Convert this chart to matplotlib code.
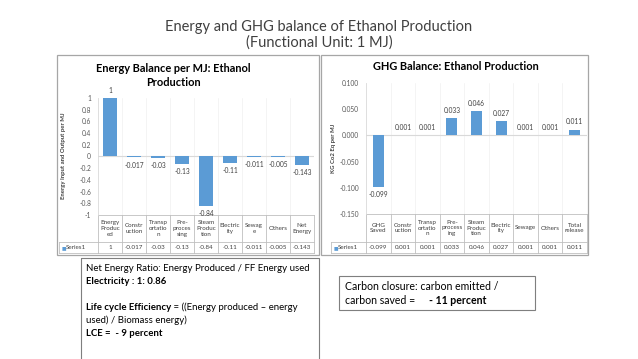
import matplotlib
matplotlib.use('Agg')
import matplotlib.pyplot as plt
from matplotlib.patches import Rectangle

plt.rcParams['font.family'] = ['Lato', 'DejaVu Sans']

# data
energy_cats = ['Energy\nProduc\ned', 'Constr\nuction', 'Transp\nortatio\nn', 'Pre-\nproces\nsing',
               'Steam\nProduc\ntion', 'Electric\nity', 'Sewag\ne', 'Others', 'Net\nEnergy']
energy_vals = [1, -0.017, -0.03, -0.13, -0.84, -0.11, -0.011, -0.005, -0.143]
energy_labels = ['1', '-0.017', '-0.03', '-0.13', '-0.84', '-0.11', '-0.011', '-0.005', '-0.143']
energy_ticks = [1, 0.8, 0.6, 0.4, 0.2, 0, -0.2, -0.4, -0.6, -0.8, -1]
energy_ticklabels = ['1', '0.8', '0.6', '0.4', '0.2', '0', '-0.2', '-0.4', '-0.6', '-0.8', '-1']

ghg_cats = ['GHG\nSaved', 'Constr\nuction', 'Transp\nortatio\nn', 'Pre-\nprocess\ning',
            'Steam\nProduc\ntion', 'Electric\nity', 'Sewage', 'Others', 'Total\nrelease']
ghg_vals = [-0.099, 0.001, 0.001, 0.033, 0.046, 0.027, 0.001, 0.001, 0.011]
ghg_labels = ['-0.099', '0.001', '0.001', '0.033', '0.046', '0.027', '0.001', '0.001', '0.011']
ghg_ticks = [0.1, 0.05, 0, -0.05, -0.1, -0.15]
ghg_ticklabels = ['0.100', '0.050', '0.000', '-0.050', '-0.100', '-0.150']

W, H = 638, 359
BLUE = '#5B9BD5'
GRID = '#D9D9D9'
TXT = '#595959'

fig = plt.figure(figsize=(W / 100, H / 100), dpi=100)

# overlay in pixel coordinates for the slide furniture
ov = fig.add_axes([0, 0, 1, 1], zorder=0)
ov.set_xlim(0, W)
ov.set_ylim(H, 0)
ov.axis('off')


def px_axes(l, t, r, b, **kw):
    return fig.add_axes([l / W, 1 - b / H, (r - l) / W, (b - t) / H], **kw)


ov.text(W / 2, 27, 'Energy and GHG balance of Ethanol Production', ha='center', va='center',
        fontsize=10.5, color='#404040')
ov.text(W / 2, 43, '(Functional Unit: 1 MJ)', ha='center', va='center',
        fontsize=10.5, color='#404040')

# chart frames
ov.add_patch(Rectangle((57, 55), 262, 200, fill=False, ec='#A6A6A6', lw=0.9))
ov.add_patch(Rectangle((321, 55), 267, 200, fill=False, ec='#A6A6A6', lw=0.9))

ov.text(173, 68, 'Energy Balance per MJ: Ethanol', ha='center', va='center', fontsize=7.9,
        fontweight='bold', color='black')
ov.text(173, 82, 'Production', ha='center', va='center', fontsize=7.9, fontweight='bold', color='black')
ov.text(456, 67, 'GHG Balance: Ethanol Production', ha='center', va='center', fontsize=7.9,
        fontweight='bold', color='black')

ov.text(63, 156, 'Energy Input and Output per MJ', rotation=90, ha='center', va='center',
        fontsize=4.3, fontweight='bold', color='#404040')
ov.text(334, 148, 'KG Co2 Eq per MJ', rotation=90, ha='center', va='center',
        fontsize=4.3, fontweight='bold', color='#404040')


def draw_chart(ax, cats, vals, labels, ticks, ticklabels, ylim, width, row1_px, row2_px, leg_px):
    n = len(cats)
    x = list(range(n))
    ax.set_xlim(-0.5, n - 0.5)
    ax.set_ylim(*ylim)
    ax.patch.set_alpha(0)
    for s in ['top', 'right', 'bottom']:
        ax.spines[s].set_visible(False)
    ax.spines['left'].set_color(GRID)
    ax.spines['left'].set_linewidth(0.6)
    ax.set_xticks([])
    ax.set_yticks(ticks)
    ax.set_yticklabels(ticklabels)
    ax.tick_params(axis='y', length=0, labelsize=4.8, labelcolor=TXT, pad=5)
    ax.axhline(0, color=GRID, lw=0.8, zorder=1)
    for i in range(1, n):
        ax.axvline(i - 0.5, color='#F0F0F0', lw=0.5, zorder=0)
    ax.bar(x, vals, width=width, color=BLUE, zorder=2)
    for xi, v, lab in zip(x, vals, labels):
        ax.annotate(lab, (xi, v), xytext=(0, 3 if v >= 0 else -3), textcoords='offset points',
                    ha='center', va='bottom' if v >= 0 else 'top', fontsize=4.8, color='#404040')

    # data table under the plot
    h = ax.get_position().height * H
    r1 = -row1_px / h
    r2 = r1 - row2_px / h
    xt = ax.get_xaxis_transform()
    kw = dict(color='#BFBFBF', lw=0.6, clip_on=False)
    ax.plot([-0.5, n - 0.5], [0, 0], transform=xt, **kw)
    ax.plot([-0.5, n - 0.5], [r1, r1], transform=xt, **kw)
    ax.plot([-0.5, n - 0.5], [r2, r2], transform=xt, **kw)
    for i in range(n + 1):
        ax.plot([i - 0.5, i - 0.5], [0, r2], transform=xt, **kw)
    wpx = ax.get_position().width * W
    lf = -leg_px / wpx
    ax.plot([lf, 0], [r1, r1], transform=ax.transAxes, **kw)
    ax.plot([lf, 0], [r2, r2], transform=ax.transAxes, **kw)
    ax.plot([lf, lf], [r1, r2], transform=ax.transAxes, **kw)
    for xi, c, lab in zip(x, cats, labels):
        ax.text(xi, r1 / 2, c, transform=xt, ha='center', va='center', fontsize=4.5,
                color='#404040', linespacing=1.2)
        ax.text(xi, (r1 + r2) / 2, lab, transform=xt, ha='center', va='center', fontsize=4.5,
                color='#404040')
    ax.text(lf + 2.5 / wpx, (r1 + r2) / 2, '\u25A0', transform=ax.transAxes, ha='left', va='center',
            fontsize=3.5, color=BLUE, family='DejaVu Sans')
    ax.text(lf + 7 / wpx, (r1 + r2) / 2, 'Series1', transform=ax.transAxes, ha='left', va='center',
            fontsize=4.5, color='#404040')


ax1 = px_axes(98, 98, 314, 215, zorder=2)
draw_chart(ax1, energy_cats, energy_vals, energy_labels, energy_ticks, energy_ticklabels,
           (-1, 1), 0.6, 27, 11, 39)

ax2 = px_axes(366, 83, 587, 214, zorder=2)
draw_chart(ax2, ghg_cats, ghg_vals, ghg_labels, ghg_ticks, ghg_ticklabels,
           (-0.15, 0.1), 0.45, 28, 11, 35)

# text boxes
ov.add_patch(Rectangle((81, 258), 238, 110, fill=False, ec='#7F7F7F', lw=0.8, clip_on=False))
ov.add_patch(Rectangle((339, 276), 196, 34, fill=False, ec='#7F7F7F', lw=0.8))

fs = 6.9
ov.text(86, 271, 'Net Energy Ratio: Energy Produced / FF Energy used', fontsize=fs, va='baseline')
ov.text(86, 284, 'Electricity : 1: 0.86', fontsize=fs, va='baseline', fontweight='bold')
t1 = ov.text(86, 310, 'Life cycle Efficiency', fontsize=fs, va='baseline', fontweight='bold')
ov.annotate(' = ((Energy produced \u2013 energy', xy=(1, 310), xycoords=(t1, 'data'),
            fontsize=fs, va='baseline', ha='left')
ov.text(86, 323, 'used) / Biomass energy)', fontsize=fs, va='baseline')
ov.text(86, 336, 'LCE =  - 9 percent', fontsize=fs, va='baseline', fontweight='bold')

fs2 = 7.6
ov.text(345, 290, 'Carbon closure: carbon emitted /', fontsize=fs2, va='baseline')
t2 = ov.text(345, 304, 'carbon saved =     ', fontsize=fs2, va='baseline')
ov.annotate('- 11 percent', xy=(1, 304), xycoords=(t2, 'data'), fontsize=fs2, va='baseline',
            ha='left', fontweight='bold')

fig.savefig('out.png', dpi=100)
